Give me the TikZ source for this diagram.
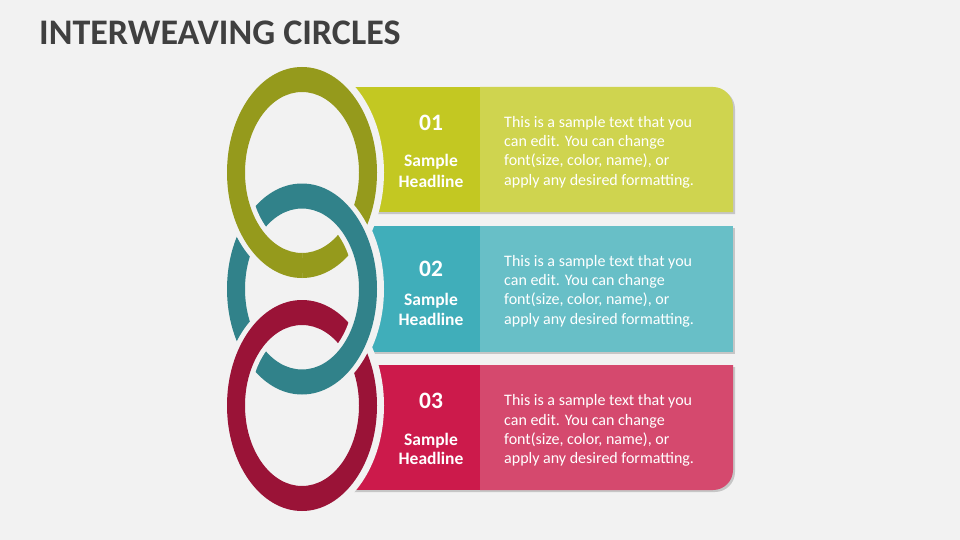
\documentclass[tikz,border=0pt]{standalone}
\usepackage{fontspec}
\setmainfont{Carlito}
\definecolor{bg}{HTML}{F2F2F2}
\definecolor{titlec}{HTML}{404040}
\definecolor{olivering}{HTML}{959A1C}
\definecolor{tealring}{HTML}{31828A}
\definecolor{crimring}{HTML}{9A1337}
\definecolor{bAl}{HTML}{C3C822}
\definecolor{bAr}{HTML}{CFD44F}
\definecolor{bBl}{HTML}{40AEBA}
\definecolor{bBr}{HTML}{68BFC7}
\definecolor{bCl}{HTML}{CC1A4B}
\definecolor{bCr}{HTML}{D5496E}
\tikzset{
  ringpath/.style={insert path={(#1) ellipse [x radius=75pt, y radius=105.5pt] (#1) ellipse [x radius=57pt, y radius=80.5pt]}},
  halo/.style={draw=bg, line width=10pt},
  cutout/.style={fill=bg},
  boxshadow/.style={fill=black, opacity=0.18, xshift=2pt, yshift=-2pt},
  numtext/.style={font=\bfseries\fontsize{23.5}{23.5}\selectfont, text=white, anchor=base, inner sep=0pt},
  headtext/.style={font=\bfseries\fontsize{17.5}{21}\selectfont, text=white, anchor=base, inner sep=0pt},
  desctext/.style={font=\fontsize{16}{19.3}\selectfont, text=white, align=left, anchor=west, inner sep=0pt},
}
\begin{document}
\begin{tikzpicture}[x=1pt,y=-1pt]
\useasboundingbox (0,0) rectangle (960,540);
\fill[bg] (0,0) rectangle (960,540);

% title
\node[font=\bfseries\fontsize{36}{40}\selectfont, text=titlec, anchor=base west, inner sep=0pt] (title) at (39,45) {INTERWEAVING CIRCLES};

% ring centres
\coordinate (c1) at (302,172.5);
\coordinate (c2) at (302,289);
\coordinate (c3) at (302,405.5);

% box shadows
\fill[boxshadow] (340,87) -- (713,87) arc[start angle=90, end angle=0, radius=20pt] -- (733,212) -- (340,212) -- cycle;
\fill[boxshadow] (340,226) rectangle (733,352);
\fill[boxshadow] (340,365) -- (733,365) -- (733,470) arc[start angle=0, end angle=-90, radius=20pt] -- (340,490) -- cycle;

% boxes
\fill[bAl] (340,87) rectangle (480,212);
\fill[bAr] (480,87) -- (713,87) arc[start angle=90, end angle=0, radius=20pt] -- (733,212) -- (480,212) -- cycle;
\fill[bBl] (340,226) rectangle (480,352);
\fill[bBr] (480,226) rectangle (733,352);
\fill[bCl] (340,365) rectangle (480,490);
\fill[bCr] (480,365) -- (733,365) -- (733,470) arc[start angle=0, end angle=-90, radius=20pt] -- (480,490) -- cycle;

% cut-outs of the boxes along the rings
\fill[cutout] (c1) ellipse [x radius=82pt, y radius=112.5pt];
\fill[cutout] (c2) ellipse [x radius=82pt, y radius=112.5pt];
\fill[cutout] (c3) ellipse [x radius=82pt, y radius=112.5pt];

% rings
\draw[halo, ringpath=c1];
\fill[olivering, even odd rule, ringpath=c1];
\draw[halo, ringpath=c2];
\fill[tealring, even odd rule, ringpath=c2];
\draw[halo, ringpath=c3];
\fill[crimring, even odd rule, ringpath=c3];
\begin{scope}
  \clip (215,185) rectangle (302,290);
  \draw[halo, ringpath=c1];
  \fill[olivering, even odd rule, ringpath=c1];
\end{scope}
\begin{scope}
  \clip (302,295) rectangle (400,400);
  \draw[halo, ringpath=c2];
  \fill[tealring, even odd rule, ringpath=c2];
\end{scope}

% texts
\node[numtext] (n1) at (431,131) {01};
\node[headtext] (s1) at (431,167) {Sample};
\node[headtext] (h1) at (431,187) {Headline};
\node[desctext] (d1) at (504,152) {This is a sample text that you\\can edit. You can change\\font(size, color, name), or\\apply any desired formatting.};

\node[numtext] (n2) at (431,276) {02};
\node[headtext] (s2) at (431,305) {Sample};
\node[headtext] (h2) at (431,325) {Headline};
\node[desctext] (d2) at (504,291) {This is a sample text that you\\can edit. You can change\\font(size, color, name), or\\apply any desired formatting.};

\node[numtext] (n3) at (431,408) {03};
\node[headtext] (s3) at (431,445) {Sample};
\node[headtext] (h3) at (431,464) {Headline};
\node[desctext] (d3) at (504,430.5) {This is a sample text that you\\can edit. You can change\\font(size, color, name), or\\apply any desired formatting.};
\end{tikzpicture}
\end{document}
